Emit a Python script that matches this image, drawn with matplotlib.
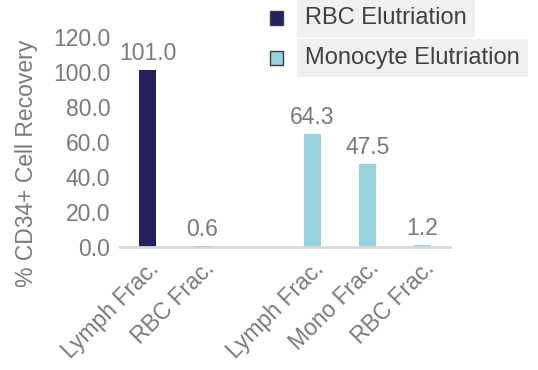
import matplotlib.pyplot as plt
from matplotlib.patches import Rectangle

# ====== DATA ======
labels = ['Lymph Frac.', 'RBC Frac.', 'Lymph Frac.', 'Mono Frac.', 'RBC Frac.']
positions = [0, 1, 3, 4, 5]
values = [101.0, 0.6, 64.3, 47.5, 1.2]
groups = ['RBC Elutriation', 'RBC Elutriation',
          'Monocyte Elutriation', 'Monocyte Elutriation', 'Monocyte Elutriation']
series = ['RBC Elutriation', 'Monocyte Elutriation']
colors = {'RBC Elutriation': '#252060', 'Monocyte Elutriation': '#98d4dd'}

plt.rcParams['font.family'] = ['Liberation Sans', 'DejaVu Sans']
gray = '#7a7a7a'
fs = 16.5

fig = plt.figure(figsize=(5.38, 3.70), dpi=100)
ax = fig.add_axes([120 / 538, 1 - 247 / 370, 330 / 538, 210 / 370])

bar_colors = [colors[g] for g in groups]
ax.bar(positions, values, width=0.31, color=bar_colors)

for x, v in zip(positions, values):
    ax.text(x, v + 3, f'{v:.1f}', ha='center', va='bottom', color=gray, fontsize=fs)

ax.set_xlim(-0.5, 5.5)
ax.set_ylim(0, 120)
ax.set_yticks(range(0, 121, 20))
ax.set_yticklabels([f'{t:.1f}' for t in range(0, 121, 20)], color=gray, fontsize=fs)
ax.set_xticks(positions)
ax.set_xticklabels(labels, rotation=45, ha='right', rotation_mode='anchor',
                   color=gray, fontsize=fs)
ax.tick_params(length=0, pad=7)
ax.set_ylabel('% CD34+ Cell Recovery', color=gray, fontsize=fs)
ax.yaxis.set_label_coords(-0.25, 0.40)

for s in ['top', 'right', 'left']:
    ax.spines[s].set_visible(False)
ax.spines['bottom'].set_color('#d9d9d9')
ax.spines['bottom'].set_linewidth(2)

# legend drawn by hand to get the shaded label boxes
W, H = 538, 370
for i, s in enumerate(series):
    yc = 18 + i * 40
    fig.add_artist(Rectangle((270 / W, 1 - (yc + 7) / H), 13 / W, 14 / H,
                             transform=fig.transFigure, facecolor=colors[s],
                             edgecolor='#3a3a4a', linewidth=1))
    fig.text(305 / W, 1 - yc / H, s, ha='left', va='center', fontsize=17,
             color='#404040',
             bbox=dict(facecolor='#f0f0f0', edgecolor='none', pad=6))

fig.savefig('out.png', dpi=100)
